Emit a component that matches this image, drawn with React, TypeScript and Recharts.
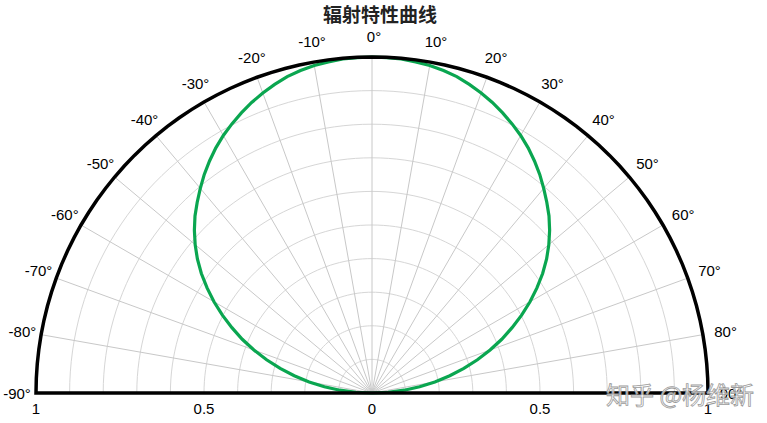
import React from 'react';
import { RadarChart, Radar, PolarGrid, PolarAngleAxis, PolarRadiusAxis } from 'recharts';

// emission angle (deg) and relative intensity
const angles = [
  -90, -87.5, -85, -82.5, -80, -77.5, -75, -72.5, -70, -67.5, -65, -62.5, -60, -57.5, -55, -52.5, -50, -47.5,
  -45, -42.5, -40, -37.5, -35, -32.5, -30, -27.5, -25, -22.5, -20, -17.5, -15, -12.5, -10, -7.5, -5, -2.5,
  0, 2.5, 5, 7.5, 10, 12.5, 15, 17.5, 20, 22.5, 25, 27.5, 30, 32.5, 35, 37.5, 40, 42.5,
  45, 47.5, 50, 52.5, 55, 57.5, 60, 62.5, 65, 67.5, 70, 72.5, 75, 77.5, 80, 82.5, 85, 87.5, 90,
];
const intensity = [
  0, 0.048, 0.096, 0.143, 0.19, 0.237, 0.283, 0.329, 0.374, 0.418, 0.46, 0.502, 0.543, 0.582, 0.62, 0.655, 0.687, 0.717,
  0.745, 0.77, 0.795, 0.82, 0.843, 0.865, 0.885, 0.903, 0.92, 0.936, 0.95, 0.963, 0.975, 0.983, 0.99, 0.994, 0.998, 0.999,
  1, 0.999, 0.998, 0.994, 0.99, 0.983, 0.975, 0.963, 0.95, 0.936, 0.92, 0.903, 0.885, 0.865, 0.843, 0.82, 0.795, 0.77,
  0.745, 0.717, 0.687, 0.655, 0.62, 0.582, 0.543, 0.502, 0.46, 0.418, 0.374, 0.329, 0.283, 0.237, 0.19, 0.143, 0.096, 0.048, 0,
];
// outer boundary: intensity 1 all round
const outline = angles.map(() => 1);
const angleTicks = [-90, -80, -70, -60, -50, -40, -30, -20, -10, 0, 10, 20, 30, 40, 50, 60, 70, 80, 90];
const radiusTicks = [0, 0.1, 0.2, 0.3, 0.4, 0.5, 0.6, 0.7, 0.8, 0.9, 1];
const radiusLabels = [0, 0.5, 1];

const data = angles.map((deg, i) => ({ deg, intensity: intensity[i], outline: outline[i] }));

const W = 767;
const H = 423;
const CX = 372;
const CY = 393;
const R = 336;
const FONT = '"Liberation Sans", Arial, sans-serif';

// grid angles in recharts' own angle units (0 = right, 90 = top)
const ringAngles = Array.from({ length: 91 }, (_, i) => i * 2);
const spokeAngles = angleTicks.map((v) => 90 - v);

const AngleTick = (props: any) => {
  const v = props.payload.value;
  const a = ((90 - v) * Math.PI) / 180;
  const lr = R + 21;
  return (
    <text
      x={CX + 2 + lr * Math.cos(a)}
      y={CY - lr * Math.sin(a)}
      textAnchor="middle"
      dominantBaseline="central"
      fontSize={15}
      fontFamily={FONT}
      fill="#000"
    >
      {`${v}°`}
    </text>
  );
};

const RadiusTick = (props: any) => {
  const { x, payload } = props;
  const v = payload.value;
  if (!radiusLabels.includes(v)) return <g />;
  const style = { fontSize: 15, fontFamily: FONT, fill: '#000' };
  return (
    <g>
      <text x={x} y={CY + 15} textAnchor="middle" dominantBaseline="central" {...style}>
        {v}
      </text>
      {v !== 0 && (
        <text x={2 * CX - x} y={CY + 15} textAnchor="middle" dominantBaseline="central" {...style}>
          {v}
        </text>
      )}
    </g>
  );
};

export default function App() {
  return (
    <div style={{ position: 'absolute', left: 0, top: 0, width: W, height: H, background: '#fff' }}>
      <div
        style={{
          position: 'absolute',
          left: 0,
          top: 2,
          width: 760,
          textAlign: 'center',
          fontFamily: '"Noto Sans CJK SC", sans-serif',
          fontWeight: 'bold',
          fontSize: 19,
          color: '#222',
          lineHeight: '24px',
        }}
      >
        辐射特性曲线
      </div>
      <RadarChart
        width={W}
        height={H}
        data={data}
        cx={CX}
        cy={CY}
        outerRadius={R}
        startAngle={180}
        endAngle={0}
        margin={{ top: 0, right: 0, bottom: 0, left: 0 }}
      >
        <PolarGrid gridType="polygon" polarAngles={ringAngles} radialLines={false} stroke="#d6d6d6" />
        <PolarGrid gridType="polygon" polarAngles={spokeAngles} polarRadius={[]} stroke="#c8c8c8" />
        <PolarAngleAxis
          dataKey="deg"
          type="number"
          domain={[-90, 90]}
          ticks={angleTicks}
          tickCount={19}
          axisLine={false}
          tickLine={false}
          tick={<AngleTick />}
        />
        <PolarRadiusAxis
          angle={0}
          type="number"
          domain={[0, 1]}
          ticks={radiusTicks}
          tickCount={11}
          axisLine={false}
          tickLine={false}
          tick={<RadiusTick />}
        />
        <Radar
          dataKey="intensity"
          stroke="#0aa650"
          strokeWidth={3.2}
          fill="none"
          fillOpacity={0}
          dot={false}
          isAnimationActive={false}
        />
        <Radar
          dataKey="outline"
          stroke="#000"
          strokeWidth={3.5}
          fill="none"
          fillOpacity={0}
          dot={false}
          isAnimationActive={false}
        />
      </RadarChart>
      <div
        style={{
          position: 'absolute',
          left: 606,
          top: 376,
          fontFamily: '"Noto Sans CJK SC", sans-serif',
          fontSize: 24,
          color: 'rgba(255,255,255,0.75)',
          WebkitTextStroke: '0.8px #9a9a9a',
          whiteSpace: 'nowrap',
        }}
      >
        知乎 @杨维新
      </div>
    </div>
  );
}
